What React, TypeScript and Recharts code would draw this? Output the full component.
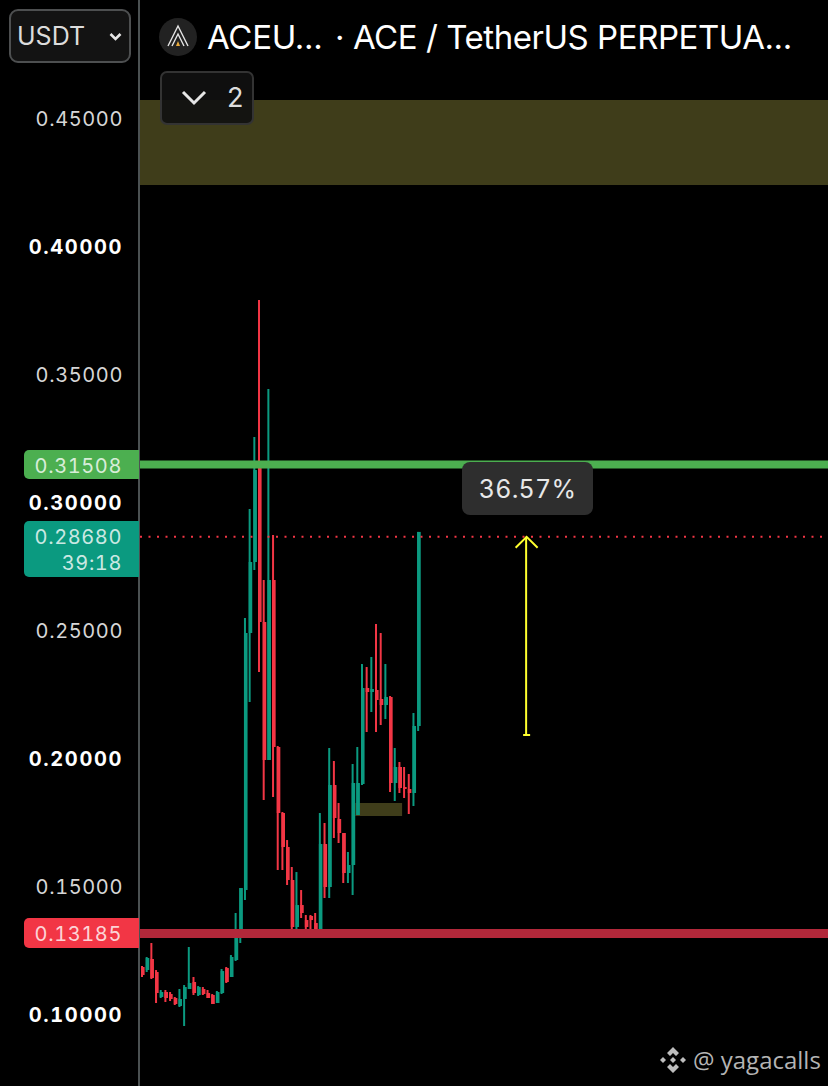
import {
  Bar,
  Cell,
  ComposedChart,
  ReferenceArea,
  ReferenceDot,
  ReferenceLine,
  XAxis,
  YAxis,
} from "recharts"

const FONT = "Inter, Roboto, sans-serif"
const GREEN = "#0b9a80"
const RED = "#f23645"

const priceTicks = [0.45, 0.4, 0.35, 0.3, 0.25, 0.2, 0.15, 0.1]
const boldTicks = [0.4, 0.3, 0.2, 0.1]

const opens = [
  0.11875, 0.11757, 0.12187, 0.11679, 0.10703, 0.10898, 0.1082, 0.10664, 0.10351, 0.10625,
  0.11015, 0.11289, 0.10781, 0.11015, 0.10859, 0.10781, 0.10468, 0.10859, 0.11835, 0.11484,
  0.12148, 0.13125, 0.14882, 0.24921, 0.27695, 0.31367, 0.25351, 0.1996, 0.26992, 0.20468,
  0.1789, 0.16562, 0.15273, 0.13437, 0.14296, 0.1371, 0.13867, 0.13593, 0.1332, 0.16679,
  0.15, 0.18984, 0.17656, 0.17109, 0.15546, 0.15859, 0.17812, 0.19023, 0.22773, 0.22617,
  0.22695, 0.22343, 0.22109, 0.22421, 0.19062, 0.19687, 0.18906, 0.18828, 0.18671, 0.21289,
]
const highs = [
  0.11914, 0.12265, 0.12812, 0.11757, 0.10976, 0.10976, 0.10898, 0.10703, 0.11015, 0.11171,
  0.12656, 0.11484, 0.11132, 0.11093, 0.10976, 0.1082, 0.10937, 0.11796, 0.11875, 0.12343,
  0.13984, 0.1496, 0.25507, 0.29765, 0.32578, 0.37929, 0.26992, 0.34453, 0.2875, 0.20507,
  0.17929, 0.16835, 0.15781, 0.15585, 0.14882, 0.13906, 0.13906, 0.13984, 0.1789, 0.175,
  0.20429, 0.19921, 0.18281, 0.17109, 0.16367, 0.19804, 0.20468, 0.2371, 0.23593, 0.23984,
  0.25273, 0.24921, 0.2371, 0.2246, 0.20429, 0.19882, 0.19687, 0.19414, 0.21796, 0.2887,
]
const lows = [
  0.11484, 0.11679, 0.11406, 0.10468, 0.10664, 0.10507, 0.10546, 0.1039, 0.10312, 0.0957,
  0.11015, 0.10781, 0.10742, 0.10781, 0.10664, 0.10429, 0.10468, 0.1082, 0.1125, 0.11484,
  0.12109, 0.12812, 0.14492, 0.22226, 0.27382, 0.23398, 0.18398, 0.1996, 0.18515, 0.15664,
  0.15664, 0.15078, 0.13125, 0.13203, 0.13789, 0.1332, 0.1332, 0.13125, 0.13125, 0.1457,
  0.1457, 0.16914, 0.16718, 0.15156, 0.15156, 0.14687, 0.17812, 0.18984, 0.21054, 0.21835,
  0.21054, 0.21328, 0.21562, 0.1871, 0.18359, 0.18671, 0.18476, 0.17851, 0.18164, 0.21093,
]
const closes = [
  0.11562, 0.12226, 0.11445, 0.10859, 0.10898, 0.10664, 0.10625, 0.10429, 0.10625, 0.11093,
  0.1125, 0.10859, 0.11093, 0.1082, 0.10664, 0.10429, 0.10898, 0.11718, 0.11289, 0.12265,
  0.13125, 0.1496, 0.24921, 0.27695, 0.31289, 0.25351, 0.1996, 0.26992, 0.20468, 0.1789,
  0.16562, 0.15273, 0.13437, 0.14296, 0.13984, 0.13437, 0.1371, 0.1332, 0.16679, 0.15,
  0.18984, 0.17695, 0.17109, 0.15546, 0.15859, 0.19062, 0.19062, 0.22773, 0.22617, 0.22734,
  0.22304, 0.22109, 0.22421, 0.19062, 0.19687, 0.18867, 0.18828, 0.18671, 0.21289, 0.2887,
]

// slots across the whole width, the candles only fill the left part
const SLOT_COUNT = 147
const chartData = Array.from({ length: SLOT_COUNT }, (_, i) =>
  i < opens.length
    ? {
        slot: i,
        wick: [lows[i], highs[i]],
        body: [Math.min(opens[i], closes[i]), Math.max(opens[i], closes[i])],
        up: closes[i] >= opens[i],
      }
    : { slot: i }
)

function PriceTick({ x, y, payload }: any) {
  const bold = boldTicks.includes(payload.value)
  return (
    <text
      x={x + 1}
      y={y}
      dy={7}
      textAnchor="end"
      fontFamily={FONT}
      fontSize={20}
      letterSpacing={bold ? 1.6 : 0.6}
      fontWeight={bold ? 700 : 400}
      fill={bold ? "#ffffff" : "#d6d6d6"}
      style={{ fontVariantNumeric: "tabular-nums" }}
    >
      {payload.value.toFixed(5)}
    </text>
  )
}

function ArrowHead({ cx, cy }: any) {
  return (
    <path
      d={`M${cx - 10.5} ${cy + 11} L${cx + 0.5} ${cy} L${cx + 11.5} ${cy + 11}`}
      fill="none"
      stroke="#ffff2e"
      strokeWidth={2}
    />
  )
}

function ArrowFoot({ cx, cy }: any) {
  return <path d={`M${cx - 3} ${cy} L${cx + 4} ${cy}`} stroke="#ffff2e" strokeWidth={2} />
}

function Badge({ top, height, color, text, sub }: any) {
  return (
    <div
      style={{
        position: "absolute",
        left: 24,
        top,
        width: 115,
        height,
        background: color,
        borderRadius: "5px 0 0 5px",
        textAlign: "right",
        fontFamily: FONT,
        fontSize: 20,
        letterSpacing: 0.6,
        fontVariantNumeric: "tabular-nums",
        lineHeight: "26px",
        color: "rgba(255,255,255,0.8)",
        boxSizing: "border-box",
        paddingTop: 3,
        paddingRight: 17,
      }}
    >
      <div>{text}</div>
      {sub ? <div>{sub}</div> : null}
    </div>
  )
}

function Header() {
  return (
    <>
      <div
        style={{
          position: "absolute",
          left: 9,
          top: 9,
          width: 122,
          height: 54,
          boxSizing: "border-box",
          border: "2px solid #4d4f50",
          borderRadius: 9,
          background: "#131313",
          color: "#dcdcdc",
          fontFamily: FONT,
          fontSize: 25,
          lineHeight: "50px",
          paddingLeft: 6,
        }}
      >
        USDT
      </div>
      <svg style={{ position: "absolute", left: 0, top: 0 }} width={828} height={130}>
        <path d="M110.5 34 L115.5 39 L120.5 34" fill="none" stroke="#e6e6e6" strokeWidth={2.6} />
        <circle cx={178} cy={37} r={19} fill="#222222" />
        <path d="M168 46 L178 26 L188 46 M172 46 L178 34 L184 46" fill="none" stroke="#e4e4e4" strokeWidth={1.4} />
        <path d="M176 46 L178 41 L180 46 Z" fill="#e8a93a" />
      </svg>
      <div
        style={{
          position: "absolute",
          left: 207,
          top: 15,
          height: 44,
          lineHeight: "44px",
          fontFamily: FONT,
          fontSize: 33,
          letterSpacing: -0.3,
          color: "#ffffff",
          whiteSpace: "nowrap",
        }}
      >
        ACEU...
      </div>
      <div
        style={{
          position: "absolute",
          left: 335,
          top: 15,
          height: 44,
          lineHeight: "44px",
          fontFamily: FONT,
          fontSize: 33,
          letterSpacing: -0.45,
          color: "#ffffff",
          whiteSpace: "nowrap",
        }}
      >
        · ACE / TetherUS PERPETUA...
      </div>
      <div
        style={{
          position: "absolute",
          left: 160,
          top: 71,
          width: 94,
          height: 54,
          boxSizing: "border-box",
          border: "2px solid #333333",
          borderRadius: 7,
          background: "rgba(16,16,16,0.92)",
          color: "#dddddd",
          fontFamily: FONT,
          fontSize: 27,
          lineHeight: "50px",
          paddingLeft: 65,
        }}
      >
        2
      </div>
      <svg style={{ position: "absolute", left: 160, top: 71 }} width={94} height={54}>
        <path d="M23 21 L34 32 L45 21" fill="none" stroke="#e6e6e6" strokeWidth={3} />
      </svg>
    </>
  )
}

export default function App() {
  return (
    <div style={{ position: "absolute", left: 0, top: 0, width: 828, height: 1086, background: "#000", overflow: "hidden" }}>
      <ComposedChart width={828} height={1086} data={chartData} margin={{ top: 0, right: 0, bottom: 0, left: 0 }}>
        <XAxis dataKey="slot" hide />
        <XAxis dataKey="slot" xAxisId="body" hide />
        <YAxis
          domain={[0.07227, 0.49648]}
          ticks={priceTicks}
          interval={0}
          width={140}
          tick={<PriceTick />}
          tickLine={false}
          tickMargin={10}
          tickSize={8}
          axisLine={false}
          allowDataOverflow
        />

        <ReferenceArea y1={0.42421} y2={0.45742} fill="#3f3d1a" fillOpacity={1} stroke="none" />
        <ReferenceArea x1={46} x2={55} y1={0.17773} y2={0.18281} fill="#3f3d1a" fillOpacity={1} stroke="none" />
        <ReferenceLine y={0.31508} stroke="#4caf50" strokeWidth={8} />
        <ReferenceLine y={0.13185} stroke="#b2283a" strokeWidth={9} />
        <ReferenceLine y={0.2868} stroke="#f23645" strokeWidth={2} strokeDasharray="2 6.5" />
        <ReferenceLine
          segment={[
            { x: 82, y: 0.2868 },
            { x: 82, y: 0.20937 },
          ]}
          stroke="#ffff2e"
          strokeWidth={2}
        />
        <ReferenceDot x={82} y={0.2868} shape={<ArrowHead />} />
        <ReferenceDot x={82} y={0.20937} shape={<ArrowFoot />} />

        <Bar dataKey="wick" barSize={2} isAnimationActive={false}>
          {chartData.map((d: any) => (
            <Cell key={d.slot} fill={d.up ? GREEN : RED} />
          ))}
        </Bar>
        <Bar dataKey="body" xAxisId="body" barSize={3.6} isAnimationActive={false}>
          {chartData.map((d: any) => (
            <Cell key={d.slot} fill={d.up ? GREEN : RED} />
          ))}
        </Bar>
      </ComposedChart>

      <div style={{ position: "absolute", left: 138, top: 0, width: 2, height: 1086, background: "#4b5152" }} />

      <Header />

      <Badge top={450} height={29} color="#4caf50" text="0.31508" />
      <Badge top={521} height={56} color={GREEN} text="0.28680" sub="39:18" />
      <Badge top={918} height={30} color={RED} text="0.13185" />

      <div
        style={{
          position: "absolute",
          left: 462,
          top: 462,
          width: 131,
          height: 53,
          borderRadius: 8,
          background: "#2e2e2e",
          color: "#e8e8e8",
          fontFamily: FONT,
          fontSize: 25,
          letterSpacing: 0.2,
          fontVariantNumeric: "tabular-nums",
          lineHeight: "55px",
          textAlign: "center",
        }}
      >
        36.57%
      </div>

      <svg style={{ position: "absolute", left: 658, top: 1045 }} width={32} height={32}>
        <g fill="#bdbdbd">
          <path d="M15 2 L21 8 L18 11 L15 8 L12 11 L9 8 Z" />
          <path d="M15 28 L21 22 L18 19 L15 22 L12 19 L9 22 Z" />
          <path d="M15 12 L18 15 L15 18 L12 15 Z" />
          <path d="M5 12 L8 15 L5 18 L2 15 Z" />
          <path d="M25 12 L28 15 L25 18 L22 15 Z" />
        </g>
      </svg>
      <div
        style={{
          position: "absolute",
          left: 693,
          top: 1044,
          height: 32,
          lineHeight: "32px",
          fontFamily: "'Open Sans', sans-serif",
          fontSize: 24,
          color: "#b4b4b4",
          whiteSpace: "nowrap",
        }}
      >
        @ yagacalls
      </div>
    </div>
  )
}
